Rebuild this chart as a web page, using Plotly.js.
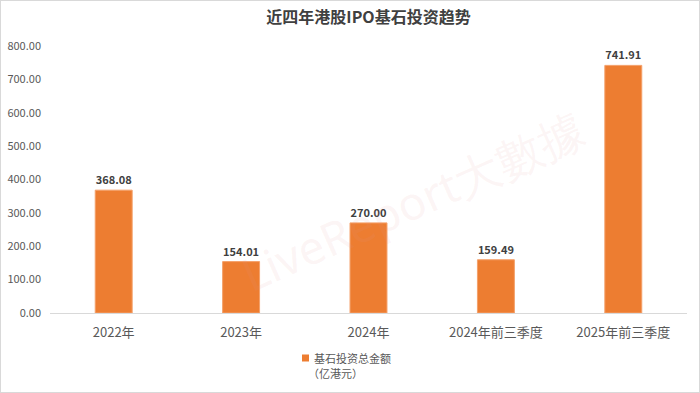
<!DOCTYPE html>
<html>
<head>
<meta charset="utf-8">
<script src="https://cdn.plot.ly/plotly-3.0.1.min.js"></script>
<style>
html,body{margin:0;padding:0;background:#fff;}
#chart{width:700px;height:393px;position:relative;}
#frame{position:absolute;left:0;top:0;width:698px;height:391px;border:1px solid #d9d9d9;pointer-events:none;}
</style>
</head>
<body>
<div id="chart"></div>
<div id="frame"></div>
<script>
const categories = ["2022年", "2023年", "2024年", "2024年前三季度", "2025年前三季度"];
const values = [368.08, 154.01, 270.00, 159.49, 741.91];
const seriesName = "基石投资总金额";
const seriesUnit = "（亿港元）";
const yTicks = [0, 100, 200, 300, 400, 500, 600, 700, 800];

const cjk = '"Noto Sans CJK SC", "Microsoft YaHei", sans-serif';
const barColor = '#ED7D31';

const trace = {
  type: 'bar',
  x: categories,
  y: values,
  name: seriesName,
  marker: {color: barColor, line: {color: '#F4A06A', width: 1}},
  text: values.map(v => v.toFixed(2)),
  textposition: 'outside',
  cliponaxis: false,
  textfont: {family: cjk, size: 11, color: '#404040', weight: 'bold'},
  showlegend: false
};

const px = x => (x - 50) / 637;
const py = y => -(y - 313) / 267;

const layout = {
  width: 700, height: 393,
  margin: {l: 50, r: 13, t: 46, b: 80, autoexpand: false},
  paper_bgcolor: '#ffffff',
  plot_bgcolor: '#ffffff',
  title: {
    text: '<b>近四年港股IPO基石投资趋势</b>',
    x: 0.5, xanchor: 'center', xref: 'paper',
    y: 0.955, yanchor: 'middle',
    font: {family: cjk, size: 16, color: '#404040'}
  },
  bargap: 0.71,
  showlegend: false,
  xaxis: {
    type: 'category',
    automargin: false,
    showgrid: false,
    showline: false,
    ticks: '',
    ticklabelstandoff: 10,
    tickfont: {family: cjk, size: 13, color: '#595959'},
    zeroline: false
  },
  yaxis: {
    range: [0, 800],
    automargin: false,
    tickvals: yTicks,
    ticktext: yTicks.map(v => v.toFixed(2)),
    showgrid: false,
    zeroline: true,
    zerolinecolor: '#d9d9d9',
    zerolinewidth: 1,
    showline: false,
    ticks: '',
    ticklabelstandoff: 8,
    tickfont: {family: cjk, size: 11, color: '#595959'}
  },
  shapes: [{
    type: 'rect', xref: 'paper', yref: 'paper',
    x0: px(302), x1: px(309),
    y0: py(361.5), y1: py(354.5),
    fillcolor: barColor, line: {width: 0}
  }],
  annotations: [{
    text: seriesName,
    xref: 'paper', yref: 'paper',
    x: px(312), xanchor: 'left',
    y: py(358), yanchor: 'middle',
    showarrow: false,
    font: {family: cjk, size: 11, color: '#595959'}
  }, {
    text: seriesUnit,
    xref: 'paper', yref: 'paper',
    x: px(306), xanchor: 'left',
    y: py(373), yanchor: 'middle',
    showarrow: false,
    font: {family: cjk, size: 11, color: '#595959'}
  }, {
    text: 'LiveReport大數據',
    xref: 'paper', yref: 'paper',
    x: 0.57, y: 0.42,
    showarrow: false,
    textangle: -24,
    font: {family: '"Noto Sans", sans-serif', size: 46, color: 'rgba(225,150,150,0.10)'}
  }]
};

Plotly.newPlot('chart', [trace], layout, {displayModeBar: false, staticPlot: true});
</script>
</body>
</html>
